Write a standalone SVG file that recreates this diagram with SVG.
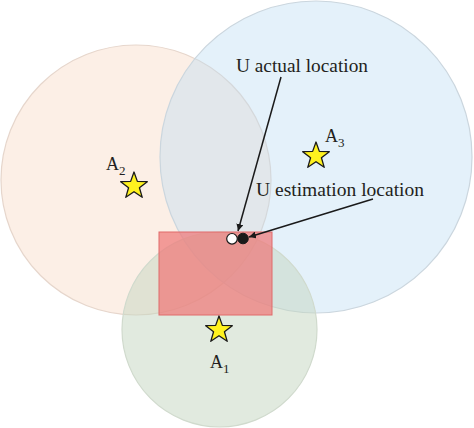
<svg xmlns="http://www.w3.org/2000/svg" width="474" height="428" viewBox="0 0 474 428">
<style>
.zone{stroke-width:1.2}
.lbl{font-family:"Liberation Serif","Times New Roman",serif;fill:#231f20}
.cap{font-size:18.5px}
.anc{font-size:18px}
.sub{font-size:13px}
.conn{stroke:#1a1a1a;stroke-width:1.5;fill:none;marker-end:url(#ah)}
.star{fill:#fff21f;stroke:#1a1a1a;stroke-width:1.3;stroke-linejoin:round}
</style>
<defs>
<marker id="ah" viewBox="0 0 10 10" refX="10" refY="5" markerWidth="7" markerHeight="7" orient="auto" markerUnits="userSpaceOnUse">
<path d="M0,0 L10,5 L0,10 z" fill="#1a1a1a"/>
</marker>
<polygon id="star" class="star" points="0,-14 3.36,-4.62 13.31,-4.33 5.43,1.77 8.23,11.33 0,5.71 -8.23,11.33 -5.43,1.77 -13.31,-4.33 -3.36,-4.62"/>
</defs>
<rect width="474" height="428" fill="#ffffff"/>
<g id="zone-A2"><circle class="zone" cx="136" cy="180" r="135" fill="#f9dcc8" fill-opacity="0.45" stroke="#e6d6cc"/></g>
<g id="zone-A3"><circle class="zone" cx="316" cy="157" r="156" fill="#bcdcf2" fill-opacity="0.4" stroke="#cbd6de"/></g>
<g id="zone-A1"><circle class="zone" cx="219.5" cy="329.5" r="97.5" fill="#c3d6bf" fill-opacity="0.5" stroke="#d0dacd"/></g>
<g id="estimate-area"><rect x="159" y="232" width="113" height="83" fill="#ee7878" fill-opacity="0.72" stroke="#e06a6a" stroke-width="1"/></g>
<g id="anchor-A2"><use href="#star" x="134" y="186"/><text class="lbl anc" x="106" y="170">A<tspan class="sub" dy="5">2</tspan></text></g>
<g id="anchor-A3"><use href="#star" x="316" y="156"/><text class="lbl anc" x="325" y="142">A<tspan class="sub" dy="5">3</tspan></text></g>
<g id="anchor-A1"><use href="#star" x="219" y="330"/><text class="lbl anc" x="210" y="368">A<tspan class="sub" dy="5">1</tspan></text></g>
<g id="estimation-point"><circle cx="243" cy="238.5" r="5.3" fill="#1a1a1a" stroke="#1a1a1a" stroke-width="1"/></g>
<g id="actual-point"><circle cx="232" cy="238.8" r="5.3" fill="#ffffff" stroke="#1a1a1a" stroke-width="1.2"/></g>
<g id="label-actual"><text class="lbl cap" x="236" y="72" textLength="132" lengthAdjust="spacingAndGlyphs">U actual location</text></g>
<g id="label-estimation"><text class="lbl cap" x="256" y="196" textLength="168" lengthAdjust="spacingAndGlyphs">U estimation location</text></g>
<g id="connectors">
<line class="conn" x1="281" y1="77" x2="238" y2="231"/>
<line class="conn" x1="373" y1="199" x2="249" y2="237"/>
</g>
</svg>
